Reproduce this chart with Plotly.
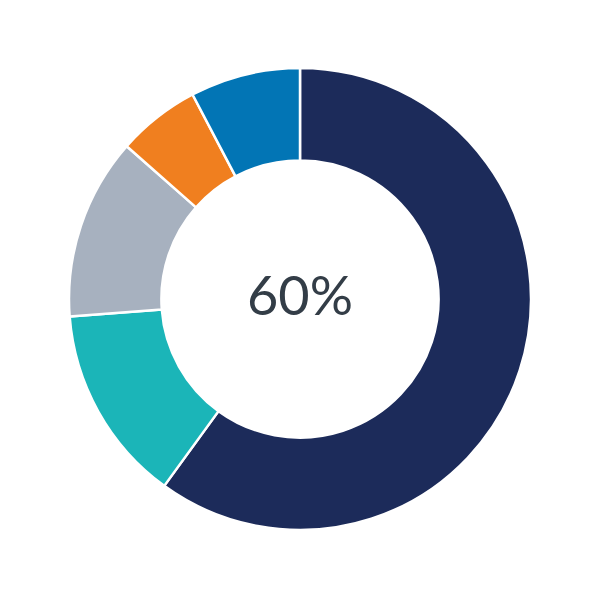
import plotly.graph_objects as go

labels = ["A", "B", "C", "D", "E"]
values = [60, 13.8, 12.7, 5.8, 7.7]
colors = ["#1c2b5a", "#1bb5b8", "#a7b1bf", "#f07f1f", "#0275b5"]
center_text = "60%"

fig = go.Figure(go.Pie(
    labels=labels, values=values, hole=0.6, sort=False, direction="clockwise",
    rotation=0, textinfo="none", hoverinfo="label+percent",
    marker=dict(colors=colors, line=dict(color="white", width=2.5)),
))
fig.add_annotation(text=center_text, x=0.5, y=0.5, xref="paper", yref="paper",
                   showarrow=False, yshift=5,
                   font=dict(family="Lato", size=54, color="#333d47"))
fig.update_layout(width=600, height=599, showlegend=False,
                  margin=dict(l=61, r=77, t=60, b=77),
                  paper_bgcolor="white", plot_bgcolor="white")
fig.write_html("out.html")
